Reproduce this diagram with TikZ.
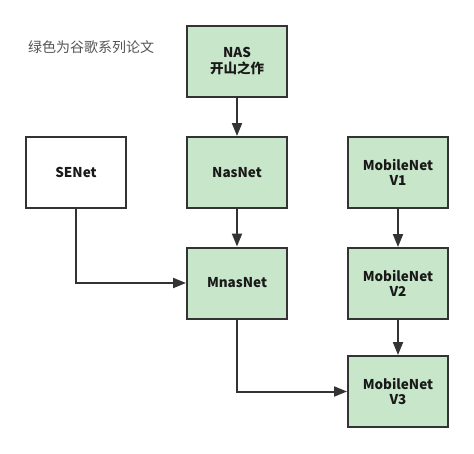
\documentclass[tikz,border=0pt]{standalone}
\usepackage{fontspec}
\setmainfont{Noto Sans CJK SC}
\usetikzlibrary{arrows.meta}
\definecolor{boxgreen}{HTML}{C8E6C9}
\definecolor{edge}{HTML}{333333}
\definecolor{titlegray}{HTML}{555555}
\begin{document}
\begin{tikzpicture}[x=1pt,y=-1pt,
  box/.style={draw=edge, line width=2pt, minimum width=100pt, minimum height=71pt,
    inner sep=0pt, align=center, font=\fontsize{13.5}{15.5}\selectfont\bfseries, text=black!90},
  gbox/.style={box, fill=boxgreen},
  wbox/.style={box, fill=white},
  conn/.style={draw=edge, line width=2pt, -{Triangle[length=13pt,width=10pt]}}]
\useasboundingbox (0,0) rectangle (474,453);
\fill[white] (0,0) rectangle (474,453);
\node[anchor=west, text=titlegray, font=\fontsize{14}{16}\selectfont, inner sep=0pt] (title) at (28,47) {绿色为谷歌系列论文};
\node[gbox] (nas) at (237,61) {NAS\\开山之作};
\node[gbox] (nasnet) at (237,172.5) {NasNet};
\node[wbox] (senet) at (76,172.5) {SENet};
\node[gbox] (mnas) at (237,283) {MnasNet};
\node[gbox] (v1) at (398,172.5) {MobileNet\\V1};
\node[gbox] (v2) at (398,283.5) {MobileNet\\V2};
\node[gbox] (v3) at (398,391.5) {MobileNet\\V3};
\draw[conn] (nas) -- (nasnet);
\draw[conn] (nasnet) -- (mnas);
\draw[conn] (senet.south) |- (mnas.west);
\draw[conn] (v1) -- (v2);
\draw[conn] (v2) -- (v3);
\draw[conn] (mnas.south) |- (v3.west);
\end{tikzpicture}
\end{document}
